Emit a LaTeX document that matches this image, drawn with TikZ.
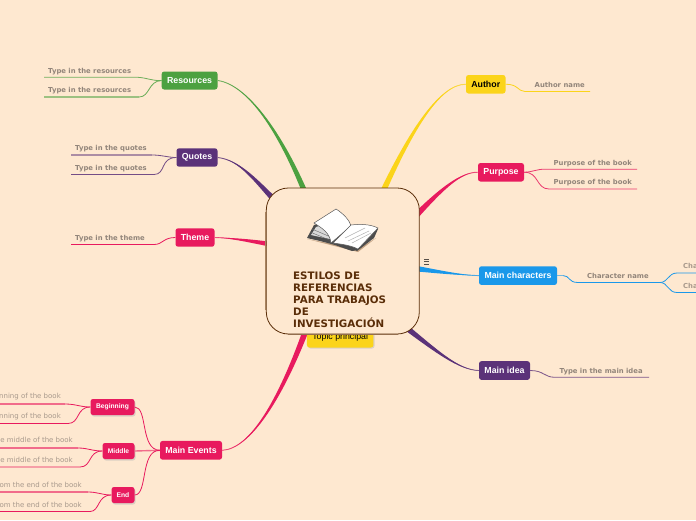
\documentclass[tikz,border=0pt]{standalone}
\usepackage{fontspec}
\setmainfont{Liberation Sans}
\newfontfamily\dejavu{DejaVu Sans}
\usetikzlibrary{calc}
\definecolor{bgc}{HTML}{FEE8D0}
\definecolor{grn}{HTML}{4CA140}
\definecolor{prp}{HTML}{5B3279}
\definecolor{pnk}{HTML}{E81A5E}
\definecolor{blu}{HTML}{1A98EA}
\definecolor{ylw}{HTML}{FBD41A}
\definecolor{brn}{HTML}{5A2D08}
\definecolor{tan1}{HTML}{A8835F}
\definecolor{lbl}{HTML}{92857A}
\definecolor{lbr}{HTML}{A8998C}
\tikzset{
  topic/.style={rounded corners=2.5pt,inner sep=0pt,text=white,font=\fontsize{8.8}{10}\selectfont\bfseries,align=center,anchor=center},
  subtopic/.style={topic,font=\fontsize{6.7}{8}\selectfont\bfseries},
  leaf/.style={text=lbl,font=\dejavu\fontsize{6.85}{8}\selectfont\bfseries,inner sep=0pt,anchor=base west},
  leafr/.style={text=lbr,font=\dejavu\fontsize{7}{8}\selectfont,inner sep=0pt,anchor=base east},
  shade box/.style={fill=black!30,opacity=.45,rounded corners=2.5pt},
  twig/.style={line width=.8pt}
}
% tapered branch: start, c1, c2, end, half width (x,y), colour
\newcommand{\taper}[6]{\draw[#6!70!bgc,line width=.9pt] (#1) .. controls (#2) and (#3) .. (#4);
  \fill[#6] ($(#1)+(#5)$) .. controls ($(#2)+0.55*(#5)$) and ($(#3)+0.08*(#5)$) .. (#4) .. controls ($(#3)-0.08*(#5)$) and ($(#2)-0.55*(#5)$) .. ($(#1)-(#5)$) -- cycle;}
% box placed by its pixel extents
\newcommand{\tbox}[7]{\node[topic,fill=#6,text=#7,minimum width=#4pt-#2pt,minimum height=#5pt-#3pt] (#1) at ({(#2+#4)/2},{(#3+#5)/2}) {#1};}
\begin{document}
\begin{tikzpicture}[x=1pt,y=-1pt]
\useasboundingbox (0,0) rectangle (696,520);
\clip (0,0) rectangle (696,520);
\fill[bgc] (0,0) rectangle (696,520);

% hubs (coordinates inside the central topic)
\coordinate (cGrn) at (310,205);
\coordinate (cPrpL) at (282,208);
\coordinate (cPnkT) at (275,245);
\coordinate (cYlw) at (376,207);
\coordinate (cPnkP) at (408,224);
\coordinate (cBlu) at (405,267);
\coordinate (cPrpI) at (399,322);
\coordinate (cPnkE) at (306,330);

% leaf end coordinates
\coordinate (r1a) at (44,77.3); \coordinate (r1b) at (138,77.3);
\coordinate (r2a) at (44,97);   \coordinate (r2b) at (139,97);
\coordinate (q1a) at (71,155);  \coordinate (q1b) at (152,155);
\coordinate (q2a) at (71,174.5);\coordinate (q2b) at (154,174.5);
\coordinate (t1a) at (71,244.5);\coordinate (t1b) at (154,244.5);
\coordinate (b1a) at (-2,404);  \coordinate (b1b) at (65,404);
\coordinate (b2a) at (-2,423.5);\coordinate (b2b) at (68,423.5);
\coordinate (m1a) at (-2,448);  \coordinate (m1b) at (78,448);
\coordinate (m2a) at (-2,467);  \coordinate (m2b) at (80,467);
\coordinate (e1a) at (-2,492);  \coordinate (e1b) at (88,492);
\coordinate (e2a) at (-2,511.5);\coordinate (e2b) at (90,511.5);
\coordinate (an1) at (590,91.5); \coordinate (an0) at (525,91.5);
\coordinate (p1a) at (637,169.2);\coordinate (p1b) at (545,169.2);
\coordinate (p2a) at (637,189);  \coordinate (p2b) at (549,189);
\coordinate (cn1) at (660,282.5);\coordinate (cn0) at (578,282.5);
\coordinate (ch1a) at (698,273); \coordinate (ch1b) at (677,273);
\coordinate (ch2a) at (698,292.5);\coordinate (ch2b) at (677,292.5);
\coordinate (mi1) at (649,377.3);\coordinate (mi0) at (555,377.3);

% topics
\tbox{Resources}{161.7}{71.5}{217.5}{89.5}{grn}{white}
\tbox{Quotes}{176.5}{148.3}{217.5}{166.7}{prp}{white}
\tbox{Theme}{175.5}{228.3}{214.5}{246.7}{pnk}{white}
\node[topic,fill=pnk,minimum width=62pt,minimum height=18.7pt] (MainEvents) at (191,450.3) {Main Events};
\fill[shade box] (91.5,400.5) rectangle (135.5,416.5);
\fill[shade box] (103.5,444.5) rectangle (135.5,460.5);
\fill[shade box] (112.5,488.5) rectangle (135.5,504.5);
\node[subtopic,fill=pnk,minimum width=44pt,minimum height=16pt] (Beginning) at (112.5,407) {Beginning};
\node[subtopic,fill=pnk,minimum width=32pt,minimum height=16pt] (Middle) at (118.5,451) {Middle};
\node[subtopic,fill=pnk,minimum width=23pt,minimum height=16pt] (End) at (123,495) {End};
\tbox{Author}{466}{75}{505.5}{93.5}{ylw}{black}
\tbox{Purpose}{478}{163}{524}{181.5}{pnk}{white}
\node[topic,fill=blu,minimum width=78pt,minimum height=18.7pt] (MainChar) at (518,275.6) {Main characters};
\node[topic,fill=prp,minimum width=51pt,minimum height=18.7pt] (MainIdea) at (504.5,370.5) {Main idea};

% tapered branches
\taper{cGrn}{285,140}{250,85}{Resources.east}{2.8,-1}{grn}
\taper{cPrpL}{255,180}{240,160}{Quotes.east}{2.4,-2.2}{prp}
\taper{cPnkT}{245,240}{230,238}{Theme.east}{.6,2.8}{pnk}
\taper{cYlw}{410,130}{440,84}{Author.west}{3,1}{ylw}
\taper{cPnkP}{440,190}{460,172}{Purpose.west}{2.4,2.4}{pnk}
\taper{cBlu}{440,272}{460,275}{MainChar.west}{-.5,3.2}{blu}
\taper{cPrpI}{435,350}{458,370}{MainIdea.west}{2.2,-2.2}{prp}
\taper{cPnkE}{280,400}{250,449}{MainEvents.east}{2.8,1}{pnk}

% twigs
\begin{scope}[twig]
\draw[grn!80!bgc] (r1a) -- (r1b) .. controls (148,78) and (152,81) .. (Resources.west);
\draw[grn!55!bgc,line width=1.2pt] (r2a) -- (r2b);
\draw[grn!85!bgc] (r2b) .. controls (150,97) and (148,81) .. (Resources.west);
\draw[prp!50!bgc,line width=1.2pt] (q1a) -- (q1b);
\draw[prp!85!bgc] (q1b) .. controls (162,155) and (168,157.5) .. (Quotes.west);
\draw[prp!85!bgc] (q2a) -- (q2b) .. controls (166,174.5) and (160,157.5) .. (Quotes.west);
\draw[pnk] (t1a) -- (t1b) .. controls (163,244.5) and (163,237.5) .. (Theme.west);
\draw[pnk!60!bgc,line width=1.2pt] (b1a) -- (b1b);
\draw[pnk] (b1b) .. controls (76,404) and (80,407) .. (Beginning.west);
\draw[pnk] (b2a) -- (b2b) .. controls (80,423.5) and (76,407) .. (Beginning.west);
\draw[pnk!60!bgc,line width=1.2pt] (m1a) -- (m1b);
\draw[pnk] (m1b) .. controls (88,448) and (92,451) .. (Middle.west);
\draw[pnk] (m2a) -- (m2b) .. controls (92,467) and (88,451) .. (Middle.west);
\draw[pnk!60!bgc,line width=1.2pt] (e1a) -- (e1b);
\draw[pnk] (e1b) .. controls (98,492) and (102,495) .. (End.west);
\draw[pnk] (e2a) -- (e2b) .. controls (100,511.5) and (97,495) .. (End.west);
\draw[pnk] (Beginning.east) .. controls (148,407) and (140,450) .. (MainEvents.west);
\draw[pnk!60!bgc,line width=1.4pt] (Middle.east) -- (MainEvents.west);
\draw[pnk] (End.east) .. controls (148,495) and (140,450) .. (MainEvents.west);
\draw[ylw] (Author.east) .. controls (518,84) and (518,91.5) .. (an0) -- (an1);
\draw[pnk!85!bgc] (Purpose.east) .. controls (533,172) and (536,169.2) .. (p1b) -- (p1a);
\draw[pnk!85!bgc] (Purpose.east) .. controls (539,172) and (536,189) .. (p2b) -- (p2a);
\draw[blu!60!bgc,line width=1.2pt] (MainChar.east) -- ++(6,0);
\draw[blu] ($(MainChar.east)+(6,0)$) .. controls (570,275.6) and (568,282.5) .. (cn0) -- (cn1);
\draw[blu] (cn1) .. controls (668,282.5) and (668,273) .. (ch1b) -- (ch1a);
\draw[blu] (cn1) .. controls (668,282.5) and (668,292.5) .. (ch2b) -- (ch2a);
\draw[prp!80!bgc] (MainIdea.east) .. controls (544,370.5) and (544,377.3) .. (mi0) -- (mi1);
\end{scope}

% leaf labels
\node[leaf] (lr1) at (48,73) {Type in the resources};
\node[leaf] (lr2) at (48,92) {Type in the resources};
\node[leaf] (lq1) at (75,150) {Type in the quotes};
\node[leaf] (lq2) at (75,170) {Type in the quotes};
\node[leaf] (lt1) at (75,240) {Type in the theme};
\node[leafr] (lb1) at (61,398.5) {beginning of the book};
\node[leafr] (lb2) at (61,418.5) {beginning of the book};
\node[leafr] (lm1) at (73,442.5) {the middle of the book};
\node[leafr] (lm2) at (73,462.5) {the middle of the book};
\node[leafr] (le1) at (82,487) {from the end of the book};
\node[leafr] (le2) at (82,507) {from the end of the book};
\node[leaf] (la1) at (534.5,87) {Author name};
\node[leaf] (lp1) at (553.5,165) {Purpose of the book};
\node[leaf] (lp2) at (553.5,184) {Purpose of the book};
\node[leaf] (lc0) at (587,278) {Character name};
\node[leaf,text=lbr] (lc1) at (683,268) {Character};
\node[leaf,text=lbr] (lc2) at (683,288) {Character};
\node[leaf] (li1) at (559.5,373) {Type in the main idea};

% topic behind the central node
\fill[black!30,opacity=.45,rounded corners=2.5pt] (308,327) rectangle (374.5,348.5);
\node[fill=ylw,rounded corners=2.5pt,minimum width=66.5pt,minimum height=21pt,inner sep=0pt] (TopicP) at (340.2,337) {};
\node[inner sep=0pt,font=\fontsize{8.8}{10}\selectfont,anchor=center] (TopicT) at (340.2,337.5) {Topic principal};

% central topic
\node[draw=brn,line width=.8pt,fill=bgc,rounded corners=22pt,minimum width=153pt,minimum height=146pt,inner sep=0pt] (Central) at (342.8,261) {};
\draw[tan1,line width=1.1pt] ($(Central.north west)+(0,24)$) -- ($(Central.south west)+(0,-24)$);
\draw[brn!65!bgc,line width=.9pt] ($(Central.south west)+(22,0)$) -- ($(Central.south east)+(-22,0)$);
\node[anchor=north west,inner sep=0pt,text=brn,align=left,font=\dejavu\fontsize{10.3}{12}\selectfont\bfseries] (CentralT) at (293,271.5) {ESTILOS DE\\REFERENCIAS\\PARA TRABAJOS\\DE\\INVESTIGACIÓN};

% book
\begin{scope}
\fill[tan1!70!bgc] (307,239) -- (358,252) -- (376,238) -- (358,249) -- cycle;
\fill[black!70] (307,238) -- (314,225) -- (332,219) -- (340,240) -- (358,250) -- (352,251) -- (335,245) -- (320,241) -- cycle;
\fill[black!70] (340,240) -- (378,229) -- (374,238) -- (357,251) -- cycle;
\fill[black!15] (311,235) -- (316,227) -- (332,222) -- (335,240) -- (320,237) -- cycle;
\draw[black!60,line width=.4pt] (310,232) -- (332,241) (312,229) -- (333,238);
\fill[white,draw=black!65,line width=.5pt] (314,223) -- (336,209) .. controls (344,214) and (350,221) .. (351,226) -- (331,243) .. controls (330,233) and (322,228) .. (314,223) -- cycle;
\fill[white,draw=black!65,line width=.5pt] (333,243) -- (351,225) .. controls (360,224) and (370,224) .. (378,228) -- (358,249) .. controls (350,245) and (340,244) .. (333,243) -- cycle;
\draw[black!30,line width=.5pt] (345,238) -- (365,228) (348,241) -- (369,231) (352,243) -- (371,233);
\end{scope}

% menu icon
\draw[lbl!60!black,line width=.6pt] (424,259.5) -- (429,259.5) (424,261.7) -- (429,261.7) (424,263.9) -- (429,263.9);
\end{tikzpicture}
\end{document}
